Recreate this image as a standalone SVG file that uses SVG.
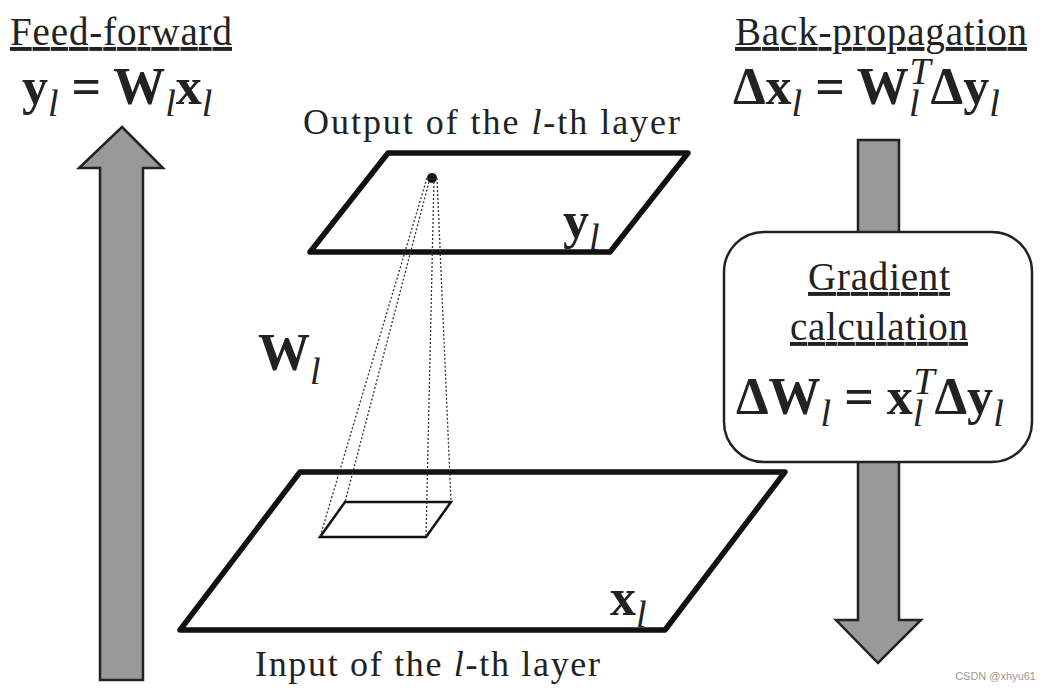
<svg xmlns="http://www.w3.org/2000/svg" width="1042" height="694" viewBox="0 0 1042 694">
<style>
.t{font-family:"Liberation Serif",serif;fill:#222}
.h{font-size:39px;text-decoration:underline}
.m{font-size:52px;font-weight:bold}
.s{font-style:italic;font-weight:normal;font-size:38px}
.arr{fill:#999;stroke:#222;stroke-width:2.5}
.layer{fill:none;stroke:#111;stroke-width:5.5;stroke-linejoin:round}
.dot{stroke:#333;stroke-width:1.3;stroke-dasharray:2 2;fill:none}
</style>
<rect width="1042" height="694" fill="#fff"/>
<g id="ff-arrow"><path class="arr" d="M122,127 L163,168 L143,168 L143,680 L100,680 L100,168 L79,168 Z"/></g>
<g id="bp-arrow"><path class="arr" d="M858,140 L899,140 L899,620 L921,620 L878,663 L836,620 L858,620 Z"/></g>
<g id="grad-box">
<rect x="724" y="232" width="308" height="230" rx="40" fill="#fff" stroke="#222" stroke-width="2.5"/>
<text class="t h" x="808" y="290" textLength="142">Gradient</text>
<text class="t h" x="790" y="340" textLength="178">calculation</text>
<text class="t m" x="736" y="414">ΔW<tspan class="s" dy="12">l</tspan><tspan dy="-12"> = x</tspan><tspan class="s" dy="12">l</tspan><tspan class="s" dx="-10" dy="-32" font-size="26">T</tspan><tspan dy="20">Δy</tspan><tspan class="s" dy="12">l</tspan></text>
</g>
<g id="ff-label">
<text class="t h" x="10" y="45" textLength="222">Feed-forward</text>
<text class="t m" x="22" y="104">y<tspan class="s" dy="12">l</tspan><tspan dy="-12"> = W</tspan><tspan class="s" dy="12">l</tspan><tspan dy="-12">x</tspan><tspan class="s" dy="12">l</tspan></text>
</g>
<g id="bp-label">
<text class="t h" x="735" y="45" textLength="292">Back-propagation</text>
<text class="t m" x="733" y="104">Δx<tspan class="s" dy="12">l</tspan><tspan dy="-12"> = W</tspan><tspan class="s" dy="12">l</tspan><tspan class="s" dx="-10" dy="-32" font-size="26">T</tspan><tspan dy="20">Δy</tspan><tspan class="s" dy="12">l</tspan></text>
</g>
<g id="output-layer">
<path class="layer" d="M310,252 L388,153 L688,153 L610,252 Z"/>
<circle cx="432" cy="178" r="5" fill="#111"/>
<text class="t" x="303" y="134" font-size="36" textLength="377">Output of the <tspan font-style="italic">l</tspan>-th layer</text>
<text class="t m" x="563" y="238" font-size="56">y<tspan class="s" dy="12" font-size="40">l</tspan></text>
</g>
<g id="input-layer">
<path class="layer" d="M180,630 L300,472 L785,472 L665,630 Z"/>
<path d="M320,537 L345,502 L451,502 L426,537 Z" fill="none" stroke="#111" stroke-width="2.5"/>
<text class="t" x="255" y="676" font-size="36" textLength="345">Input of the <tspan font-style="italic">l</tspan>-th layer</text>
<text class="t m" x="610" y="615" font-size="56">x<tspan class="s" dy="12" font-size="40">l</tspan></text>
</g>
<g id="connectors">
<path class="dot" d="M427,178 L320,537 M430,178 L345,502 M434,178 L426,537 M437,178 L451,502"/>
</g>
<g id="w-label"><text class="t m" x="258" y="370" font-size="62">W<tspan class="s" dy="14" font-size="44">l</tspan></text></g>
<text x="1036" y="680" text-anchor="end" font-family="Liberation Sans,sans-serif" font-size="11" fill="#999">CSDN @xhyu61</text>
</svg>
